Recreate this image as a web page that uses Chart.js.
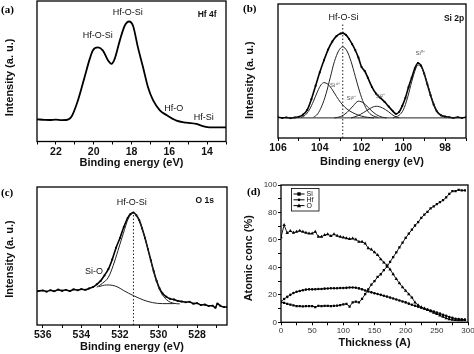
<!DOCTYPE html>
<html>
<head>
<meta charset="utf-8">
<script src="https://cdn.jsdelivr.net/npm/chart.js@4.4.1/dist/chart.umd.min.js"></script>
<style>
  html, body { margin: 0; padding: 0; background: #fff; width: 474px; height: 354px; overflow: hidden; }
  canvas { position: absolute; }
</style>
</head>
<body>
<canvas id="chart-a" width="237" height="177" style="left:0;top:0"></canvas>
<canvas id="chart-b" width="237" height="177" style="left:237px;top:0"></canvas>
<canvas id="chart-c" width="237" height="177" style="left:0;top:177px"></canvas>
<canvas id="chart-d" width="245" height="177" style="left:237px;top:177px"></canvas>
<script>
// (a) Hf 4f spectrum
const hfEnergy = [23.0, 22.6, 22.33, 22.0, 21.7, 21.45, 21.18, 20.83, 20.48, 20.21, 20.04, 19.77, 19.51, 19.24, 19.06, 18.89, 18.62, 18.36, 18.13, 17.92, 17.66, 17.39, 17.13, 16.86, 16.51, 16.15, 15.62, 15.1, 14.57, 14.13, 13.87, 13.5, 13.0];
const hfIntensity = [15.8, 15.4, 15.3, 15.6, 15.2, 15.3, 17.6, 29.4, 45.9, 58.8, 65.0, 67.0, 64.7, 57.6, 55.3, 58.8, 71.8, 82.4, 85.4, 82.4, 67.0, 52.9, 38.8, 29.4, 22.4, 18.8, 14.8, 13.4, 12.5, 10.6, 10.1, 10.1, 10.1];

// (b) Si 2p spectrum + fitted components
const siEnergy = [106.0, 105.8, 105.6, 105.4, 105.2, 105.0, 104.8, 104.6, 104.4, 104.2, 104.0, 103.8, 103.6, 103.4, 103.2, 103.0, 102.9, 102.75, 102.6, 102.45, 102.3, 102.15, 102.0, 101.85, 101.7, 101.5, 101.3, 101.1, 100.9, 100.7, 100.5, 100.35, 100.2, 100.05, 99.9, 99.75, 99.6, 99.45, 99.3, 99.15, 99.0, 98.85, 98.7, 98.55, 98.4, 98.2, 98.0, 97.8, 97.6, 97.4, 97.2, 97.0];
const siIntensity = [15.5, 15.0, 15.3, 14.8, 15.3, 15.8, 17.5, 21.0, 29.0, 39.0, 49.0, 58.0, 66.0, 72.0, 76.0, 78.0, 78.3, 77.0, 74.0, 70.0, 65.5, 60.0, 53.0, 50.0, 45.0, 38.0, 33.0, 30.0, 27.0, 23.5, 20.0, 18.0, 19.5, 24.0, 30.0, 38.0, 45.0, 52.0, 56.0, 54.0, 48.0, 40.0, 32.0, 25.0, 20.0, 17.0, 16.0, 15.5, 15.0, 15.5, 15.0, 15.5];
const si4Energy = [104.9, 104.7, 104.5, 104.3, 104.1, 103.95, 103.8, 103.6, 103.4, 103.2, 103.0, 102.8, 102.6, 102.3, 102.0, 101.7, 101.4];
const si4Fit = [15.3, 17.0, 21.0, 27.5, 35.0, 39.5, 41.3, 40.0, 36.0, 31.0, 26.5, 23.0, 20.5, 18.0, 16.3, 15.4, 15.0];
const hfosiEnergy = [104.3, 104.1, 103.9, 103.7, 103.5, 103.3, 103.1, 102.9, 102.7, 102.5, 102.3, 102.1, 101.9, 101.7, 101.5, 101.2];
const hfosiFit = [15.5, 18.0, 24.0, 33.0, 45.0, 57.0, 65.0, 68.0, 65.0, 57.0, 46.0, 35.0, 26.0, 20.0, 17.0, 15.3];
const si3Energy = [103.3, 103.0, 102.7, 102.4, 102.15, 101.9, 101.6, 101.3, 101.0, 100.8];
const si3Fit = [15.0, 16.0, 19.0, 24.0, 27.5, 26.0, 21.5, 17.5, 15.5, 15.0];
const si2Energy = [102.5, 102.2, 101.9, 101.6, 101.3, 101.0, 100.7, 100.45, 100.2];
const si2Fit = [15.0, 16.5, 19.0, 22.0, 23.7, 22.5, 19.5, 16.5, 15.0];
const si0Energy = [100.5, 100.2, 100.0, 99.8, 99.6, 99.4, 99.3, 99.15, 99.0, 98.8, 98.6, 98.4, 98.2, 98.0];
const si0Fit = [15.0, 17.0, 21.0, 30.0, 42.0, 52.0, 54.5, 53.0, 48.0, 38.0, 28.0, 20.5, 17.0, 15.5];
const siBaseEnergy = [105.6, 97.2];
const siBase = [15.0, 15.0];

// (c) O 1s spectrum + fitted components
const oEnergy = [536.25, 536.0, 535.8, 535.6, 535.4, 535.2, 535.0, 534.8, 534.6, 534.4, 534.2, 534.0, 533.8, 533.6, 533.4, 533.2, 533.0, 532.8, 532.6, 532.4, 532.2, 532.0, 531.8, 531.6, 531.45, 531.3, 531.15, 531.0, 530.85, 530.7, 530.55, 530.4, 530.25, 530.1, 529.95, 529.8, 529.6, 529.4, 529.2, 529.0, 528.8, 528.6, 528.4, 528.2, 528.0, 527.8, 527.6, 527.4, 527.2, 527.05, 526.95, 526.8, 526.6, 526.45];
const oIntensity = [24.5, 25.0, 24.2, 25.2, 24.5, 25.6, 24.8, 25.5, 24.6, 25.8, 25.2, 26.0, 25.5, 26.5, 27.5, 29.5, 32.0, 36.0, 40.5, 47.5, 56.0, 63.0, 71.0, 77.5, 80.5, 81.5, 79.5, 76.0, 70.0, 63.0, 55.0, 47.0, 39.0, 32.0, 26.5, 23.0, 20.5, 19.0, 18.5, 17.5, 17.0, 16.5, 16.8, 15.5, 15.8, 14.5, 14.8, 13.8, 14.0, 12.5, 15.5, 14.0, 13.0, 13.0];
const oSumEnergy = [533.2, 532.9, 532.6, 532.35, 532.1, 531.83, 531.57, 531.31, 531.05, 530.79, 530.53, 530.27, 529.92, 529.57, 529.2, 528.9];
const oSumFit = [27.4, 30.3, 34.6, 43.1, 54.0, 66.1, 77.0, 81.1, 77.0, 67.3, 54.0, 39.5, 24.9, 18.2, 15.7, 15.3];
const siOEnergy = [533.1, 532.9, 532.7, 532.4, 532.1, 531.8, 531.3, 530.8, 530.3, 529.8, 529.2];
const siOFit = [27.8, 28.6, 29.0, 28.8, 27.4, 24.9, 21.3, 18.2, 16.2, 15.5, 15.5];

// peak position markers (eV)
const siPeakLine = 102.9;
const oPeakLine = 531.3;

// (d) depth profile
const thickness = [0, 5, 10, 15, 20, 25, 30, 35, 40, 45, 50, 55, 60, 65, 70, 75, 80, 85, 90, 95, 100, 105, 110, 115, 120, 125, 130, 135, 140, 145, 150, 155, 160, 165, 170, 175, 180, 185, 190, 195, 200, 205, 210, 215, 220, 225, 230, 235, 240, 245, 250, 255, 260, 265, 270, 275, 280, 285, 290, 295];
const siConc = [14.5, 14.2, 13.5, 12.8, 12.3, 11.8, 11.7, 11.6, 11.7, 11.7, 11.8, 11.0, 12.0, 11.8, 11.9, 12.0, 11.8, 12.0, 12.1, 12.5, 13.0, 13.5, 11.5, 14.5, 15.0, 14.5, 17.0, 20.5, 24.0, 27.5, 30.0, 33.0, 35.0, 38.0, 40.5, 44.0, 47.5, 51.0, 54.5, 58.0, 61.5, 64.5, 67.5, 70.5, 73.0, 76.0, 78.5, 80.5, 83.0, 84.5, 86.0, 87.5, 89.0, 91.0, 93.5, 95.5, 95.5, 96.5, 96.0, 96.0];
const hfConc = [15.0, 17.0, 18.5, 20.0, 21.3, 22.2, 22.8, 23.3, 23.8, 24.0, 24.0, 24.1, 24.2, 24.3, 24.5, 24.6, 24.8, 24.8, 24.8, 25.0, 25.0, 25.1, 25.3, 25.4, 25.2, 24.7, 24.0, 23.2, 22.4, 21.8, 21.2, 20.6, 20.0, 19.3, 18.7, 18.0, 17.3, 16.6, 15.9, 15.2, 14.5, 13.6, 12.8, 12.0, 11.3, 10.6, 9.9, 9.2, 8.5, 7.8, 7.1, 6.3, 5.5, 4.7, 3.9, 3.2, 2.6, 2.3, 2.1, 2.0];
const oConc = [62.0, 70.8, 65.0, 66.5, 65.2, 66.0, 66.7, 66.0, 65.2, 64.7, 64.7, 66.0, 62.3, 62.3, 63.5, 64.2, 62.8, 64.2, 63.0, 62.3, 61.8, 61.3, 60.6, 61.0, 60.3, 58.6, 58.6, 57.4, 54.0, 53.0, 51.0, 49.0, 46.0, 43.5, 41.5, 38.5, 35.0, 31.5, 28.5, 25.5, 23.0, 20.5, 18.0, 14.5, 12.5, 11.0, 10.0, 9.0, 8.0, 7.0, 6.0, 5.0, 4.0, 3.0, 2.3, 1.8, 1.6, 1.5, 1.5, 1.5];

const SANS = "'Liberation Sans', Arial, sans-serif";
Chart.defaults.font.family = SANS;
Chart.defaults.color = "#111";

function pts(xs, ys) {
  return xs.map((x, i) => ({ x, y: ys[i] }));
}

// frame around plot, text notes in data coords, panel tag, small legend
const decor = {
  id: "decor",
  afterDraw(chart, args, opts) {
    const { ctx, chartArea: a, scales } = chart;
    ctx.save();
    ctx.strokeStyle = "#000";
    ctx.lineWidth = 1.3;
    ctx.strokeRect(a.left, a.top, a.right - a.left, a.bottom - a.top);
    ctx.textAlign = "center";
    ctx.textBaseline = "middle";
    (opts.notes || []).forEach((n) => {
      ctx.font = n.font;
      ctx.fillStyle = n.color || "#111";
      ctx.fillText(n.text, scales.x.getPixelForValue(n.x), scales.y.getPixelForValue(n.y));
    });
    if (opts.tag) {
      ctx.font = "bold 11px 'Liberation Serif', serif";
      ctx.fillStyle = "#000";
      ctx.textAlign = "left";
      ctx.fillText(opts.tag.text, opts.tag.x, opts.tag.y);
    }
    if (opts.legend) {
      const L = opts.legend;
      ctx.lineWidth = 0.8;
      ctx.strokeRect(L.x, L.y, L.w, L.h);
      L.items.forEach((it, i) => {
        const cy = L.y + 5.5 + i * 5.8;
        ctx.lineWidth = 1;
        ctx.beginPath();
        ctx.moveTo(L.x + 2, cy);
        ctx.lineTo(L.x + 13, cy);
        ctx.stroke();
        drawMarker(ctx, it.style, L.x + 7.5, cy, 1.7);
        ctx.font = "7px " + SANS;
        ctx.fillStyle = "#111";
        ctx.textAlign = "left";
        ctx.fillText(it.label, L.x + 15, cy + 0.3);
      });
    }
    ctx.restore();
  },
};

function drawMarker(ctx, style, x, y, r) {
  ctx.fillStyle = "#000";
  ctx.beginPath();
  if (style === "rect") ctx.rect(x - r, y - r, 2 * r, 2 * r);
  else if (style === "triangle") {
    ctx.moveTo(x, y - r * 1.3);
    ctx.lineTo(x + r * 1.2, y + r);
    ctx.lineTo(x - r * 1.2, y + r);
    ctx.closePath();
  } else ctx.arc(x, y, r * 0.8, 0, Math.PI * 2);
  ctx.fill();
}

function energyAxis(min, max, xHeight, titlePad, tickPad) {
  return {
    type: "linear",
    reverse: true,
    min,
    max,
    afterFit: (s) => { s.height = xHeight; },
    ticks: {
      stepSize: 1,
      autoSkip: false,
      includeBounds: false,
      maxRotation: 0,
      padding: tickPad,
      color: "#111",
      font: { size: 10.5, weight: "bold" },
      callback: (v) => (v % 2 === 0 ? v : ""),
    },
    grid: { display: true, drawOnChartArea: false, tickLength: 3, tickColor: "#000", tickWidth: 1 },
    border: { display: false },
    title: { display: true, text: "Binding energy (eV)", color: "#111", font: { size: 11, weight: "bold" }, padding: { top: 0, bottom: titlePad } },
  };
}

function intensityAxis(yWidth, titlePad, text) {
  return {
    type: "linear",
    min: 0,
    max: 100,
    afterFit: (s) => { s.width = yWidth; },
    ticks: { display: false },
    grid: { display: false },
    border: { display: false },
    title: { display: true, text, color: "#111", font: { size: 11, weight: "bold" }, padding: { top: titlePad, bottom: 0 } },
  };
}

const thick = { borderColor: "#000", borderWidth: 1.8, pointRadius: 0, showLine: true, cubicInterpolationMode: "monotone" };
const thin = { borderColor: "#222", borderWidth: 1, pointRadius: 0, showLine: true, cubicInterpolationMode: "monotone" };
const dotted = { borderColor: "#222", borderWidth: 1, borderDash: [1.5, 2], pointRadius: 0, showLine: true };
const measured = { borderColor: "#000", borderWidth: 1.6, pointRadius: 1.3, pointStyle: "rect", backgroundColor: "#000", pointBorderWidth: 0, showLine: true, cubicInterpolationMode: "monotone" };

const common = {
  responsive: false,
  animation: false,
  events: [],
  plugins: { legend: { display: false }, tooltip: { enabled: false } },
};

// (a)
new Chart(document.getElementById("chart-a"), {
  type: "scatter",
  data: { datasets: [{ ...thick, data: pts(hfEnergy, hfIntensity) }] },
  options: {
    ...common,
    layout: { padding: { left: 0, top: 1, right: 11, bottom: 0 } },
    scales: { x: energyAxis(13, 23, 35.5, 7.7, 1), y: intensityAxis(37, 3.4, "Intensity (a. u.)\u00a0\u00a0\u00a0\u00a0") },
    plugins: {
      ...common.plugins,
      decor: {
        tag: { text: "(a)", x: 1, y: 10 },
        notes: [
          { text: "Hf-O-Si", x: 19.79, y: 75.4, font: "9px " + SANS },
          { text: "Hf-O-Si", x: 18.2, y: 91.5, font: "9px " + SANS },
          { text: "Hf-O", x: 15.77, y: 23.8, font: "9px " + SANS },
          { text: "Hf-Si", x: 14.18, y: 17.4, font: "9px " + SANS },
          { text: "Hf 4f", x: 14.0, y: 90, font: "bold 8.5px " + SANS },
        ],
      },
    },
  },
  plugins: [decor],
});

// (b)
new Chart(document.getElementById("chart-b"), {
  type: "scatter",
  data: {
    datasets: [
      { ...thin, data: pts(siBaseEnergy, siBase) },
      { ...thin, data: pts(si4Energy, si4Fit) },
      { ...thin, data: pts(hfosiEnergy, hfosiFit) },
      { ...thin, data: pts(si3Energy, si3Fit) },
      { ...thin, data: pts(si2Energy, si2Fit) },
      { ...thin, data: pts(si0Energy, si0Fit) },
      { ...dotted, data: [{ x: siPeakLine, y: 0 }, { x: siPeakLine, y: 85 }] },
      { ...measured, data: pts(siEnergy, siIntensity) },
    ],
  },
  options: {
    ...common,
    layout: { padding: { left: 0, top: 1, right: 8, bottom: 0 } },
    scales: { x: energyAxis(97, 106, 39, 8.5, 1), y: intensityAxis(41, 6.7, "Intensity (a. u.)\u00a0\u00a0\u00a0\u00a0\u00a0\u00a0") },
    plugins: {
      ...common.plugins,
      decor: {
        tag: { text: "(b)", x: 6, y: 9 },
        notes: [
          { text: "Hf-O-Si", x: 102.87, y: 89.8, font: "9px " + SANS },
          { text: "Si 2p", x: 97.57, y: 89, font: "bold 8.5px " + SANS },
          { text: "Si\u2074\u207a", x: 103.27, y: 39.4, font: "6px " + SANS, color: "#555" },
          { text: "Si\u00b3\u207a", x: 102.5, y: 29.6, font: "6px " + SANS, color: "#555" },
          { text: "Si\u00b2\u207a", x: 101.1, y: 31.4, font: "6px " + SANS, color: "#555" },
          { text: "Si\u2070\u207a", x: 99.2, y: 63, font: "6px " + SANS, color: "#555" },
        ],
      },
    },
  },
  plugins: [decor],
});

// (c)
new Chart(document.getElementById("chart-c"), {
  type: "scatter",
  data: {
    datasets: [
      { ...thin, data: pts(siOEnergy, siOFit) },
      { ...thin, data: pts(oSumEnergy, oSumFit) },
      { ...dotted, data: [{ x: oPeakLine, y: 0 }, { x: oPeakLine, y: 80 }] },
      { ...measured, data: pts(oEnergy, oIntensity) },
    ],
  },
  options: {
    ...common,
    layout: { padding: { left: 0, top: 10, right: 10, bottom: 0 } },
    scales: { x: energyAxis(526.45, 536.3, 29, 0.8, 1), y: intensityAxis(37, 3.4, "Intensity (a. u.)\u00a0\u00a0") },
    plugins: {
      ...common.plugins,
      decor: {
        tag: { text: "(c)", x: 1, y: 16 },
        notes: [
          { text: "Hf-O-Si", x: 531.39, y: 88.6, font: "9px " + SANS },
          { text: "O 1s", x: 527.6, y: 90, font: "bold 8.5px " + SANS },
          { text: "Si-O", x: 533.34, y: 39, font: "9px " + SANS },
        ],
      },
    },
  },
  plugins: [decor],
});

// (d)
const profile = (data, style, r) => ({
  data: pts(thickness, data),
  showLine: true,
  borderColor: "#000",
  borderWidth: 0.9,
  backgroundColor: "#000",
  pointStyle: style,
  pointRadius: r,
  pointBorderWidth: 0,
});

new Chart(document.getElementById("chart-d"), {
  type: "scatter",
  data: {
    datasets: [
      profile(siConc, "rect", 1.6),
      profile(hfConc, "circle", 1.3),
      profile(oConc, "triangle", 2),
    ],
  },
  options: {
    ...common,
    layout: { padding: { left: 0, top: 8, right: 14, bottom: 0 } },
    scales: {
      x: {
        type: "linear",
        min: 0,
        max: 300,
        afterFit: (s) => { s.height = 31.7; },
        ticks: { stepSize: 25, autoSkip: false, maxRotation: 0, padding: 1, color: "#333", font: { size: 8 }, callback: (v) => (v % 50 === 0 ? v : "") },
        grid: { display: true, drawOnChartArea: false, tickLength: 3, tickColor: "#000" },
        border: { display: false },
        title: { display: true, text: "Thickness (A)", color: "#111", font: { size: 11, weight: "bold" }, padding: { top: 0, bottom: 4 } },
      },
      y: {
        type: "linear",
        min: 0,
        max: 100,
        afterFit: (s) => { s.width = 44; },
        ticks: { stepSize: 10, autoSkip: false, padding: 1, color: "#333", font: { size: 8 }, callback: (v) => (v % 20 === 0 ? v : "") },
        grid: { display: true, drawOnChartArea: false, tickLength: 3, tickColor: "#000" },
        border: { display: false },
        title: { display: true, text: "Atomic conc (%)\u00a0\u00a0\u00a0", color: "#111", font: { size: 11, weight: "bold" }, padding: { top: 5, bottom: 0 } },
      },
    },
    plugins: {
      ...common.plugins,
      decor: {
        tag: { text: "(d)", x: 10, y: 15 },
        legend: {
          x: 54.5, y: 11.5, w: 27.5, h: 22.5,
          items: [
            { label: "Si", style: "rect" },
            { label: "Hf", style: "circle" },
            { label: "O", style: "triangle" },
          ],
        },
      },
    },
  },
  plugins: [decor],
});
</script>
</body>
</html>
